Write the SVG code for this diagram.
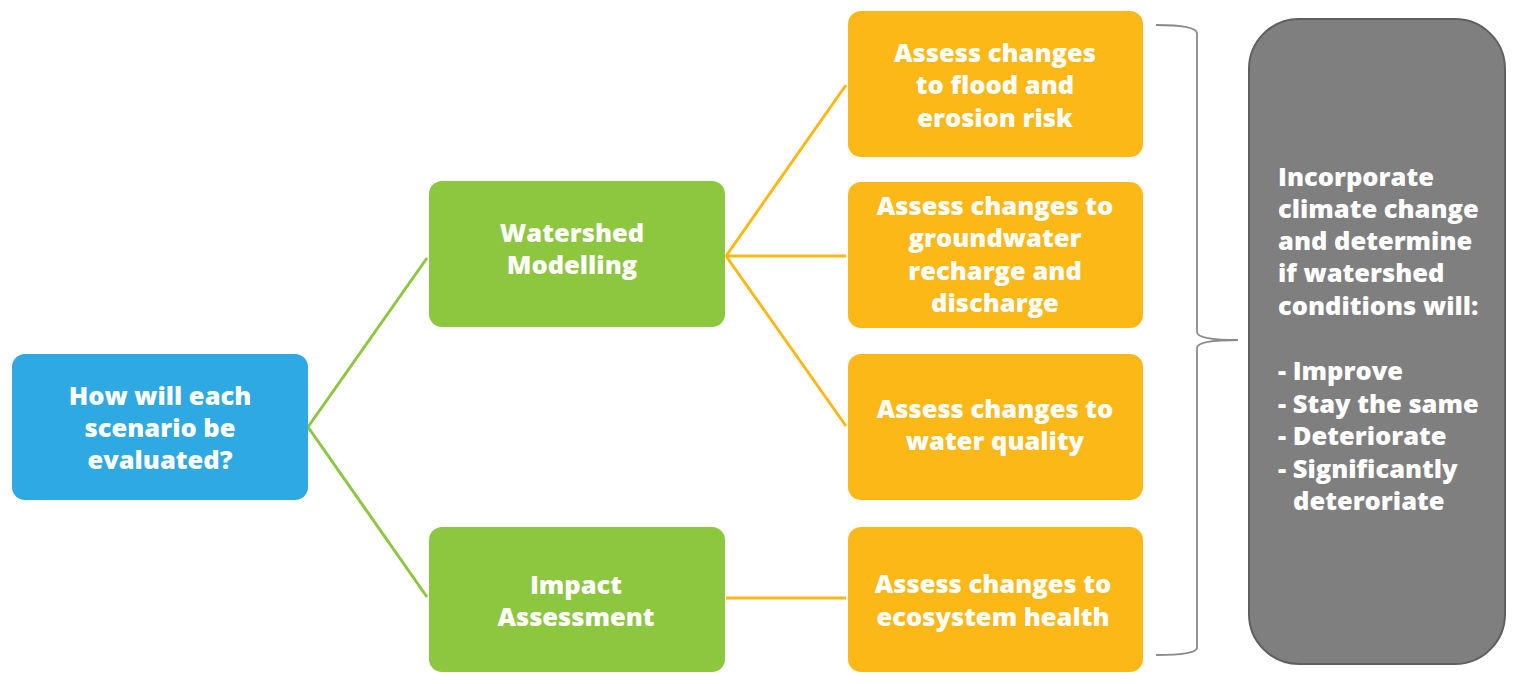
<svg xmlns="http://www.w3.org/2000/svg" width="1520" height="684" viewBox="0 0 1520 684">
<style>
.t{font-family:"Open Sans","Liberation Sans",sans-serif;font-weight:800;font-size:25.5px;fill:#fff;text-anchor:middle}
.l{font-family:"Open Sans","Liberation Sans",sans-serif;font-weight:800;font-size:25.5px;fill:#fff}
.blue{fill:#2ea9e1}
.green{fill:#8dc63f}
.orange{fill:#fcb817}
.gc{stroke:#8dc63f;stroke-width:3;fill:none}
.oc{stroke:#fcb817;stroke-width:3;fill:none}
</style>
<rect width="1520" height="684" fill="#fff"/>
<g id="connectors">
<path class="gc" d="M308 427 L427 258 M308 427 L427 597"/>
<path class="oc" d="M726 256 L846 85 M726 256 L846 256 M726 256 L846 426 M726 598 L846 598"/>
<path d="M1156 25 C1180 25 1196 27 1197 33 L1197 332 C1197 338 1215 340 1238 340 C1215 340 1197 342 1197 348 L1197 648 C1196 653 1180 655 1156 655" fill="none" stroke="#8a8a8a" stroke-width="1.8"/>
</g>
<g id="n-question">
<rect class="blue" x="12" y="354" width="296" height="146" rx="13"/>
<text class="t" x="160" y="405">How will each</text>
<text class="t" x="160" y="437">scenario be</text>
<text class="t" x="160" y="469">evaluated?</text>
</g>
<g id="n-watershed">
<rect class="green" x="429" y="181" width="296" height="146" rx="13"/>
<text class="t" x="572" y="242">Watershed</text>
<text class="t" x="572" y="274">Modelling</text>
</g>
<g id="n-impact">
<rect class="green" x="429" y="527" width="296" height="145" rx="13"/>
<text class="t" x="576" y="594">Impact</text>
<text class="t" x="576" y="626">Assessment</text>
</g>
<g id="n-flood">
<rect class="orange" x="848" y="11" width="295" height="146" rx="13"/>
<text class="t" x="995" y="62">Assess changes</text>
<text class="t" x="995" y="94">to flood and</text>
<text class="t" x="995" y="127">erosion risk</text>
</g>
<g id="n-groundwater">
<rect class="orange" x="848" y="182" width="295" height="146" rx="13"/>
<text class="t" x="995" y="215">Assess changes to</text>
<text class="t" x="995" y="247">groundwater</text>
<text class="t" x="995" y="280">recharge and</text>
<text class="t" x="995" y="312">discharge</text>
</g>
<g id="n-quality">
<rect class="orange" x="848" y="354" width="295" height="146" rx="13"/>
<text class="t" x="995" y="418">Assess changes to</text>
<text class="t" x="995" y="450">water quality</text>
</g>
<g id="n-ecosystem">
<rect class="orange" x="848" y="527" width="295" height="145" rx="13"/>
<text class="t" x="993" y="593">Assess changes to</text>
<text class="t" x="993" y="626">ecosystem health</text>
</g>
<g id="n-climate">
<rect x="1249" y="19" width="256" height="645" rx="50" fill="#7f7f7f" stroke="#5f5f5f" stroke-width="2"/>
<text class="l" x="1278" y="186">Incorporate</text>
<text class="l" x="1278" y="218">climate change</text>
<text class="l" x="1278" y="250">and determine</text>
<text class="l" x="1278" y="282">if watershed</text>
<text class="l" x="1278" y="315">conditions will:</text>
<text class="l" x="1278" y="380">- Improve</text>
<text class="l" x="1278" y="413">- Stay the same</text>
<text class="l" x="1278" y="445">- Deteriorate</text>
<text class="l" x="1278" y="478">- Significantly</text>
<text class="l" x="1293" y="510">deteroriate</text>
</g>
</svg>
